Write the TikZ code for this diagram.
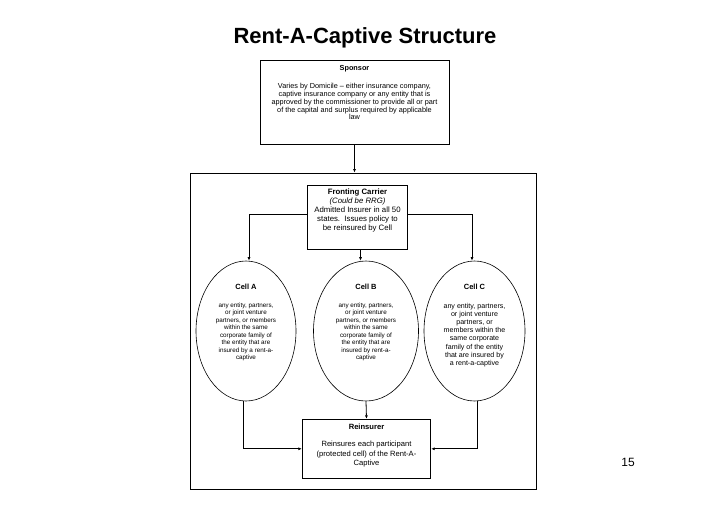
\documentclass[tikz,border=0pt]{standalone}
\usepackage{fontspec}
\setmainfont{Liberation Sans}
\usetikzlibrary{shapes.geometric,arrows.meta}

\begin{document}
\begin{tikzpicture}[x=1pt,y=-1pt,line width=.8pt,
  box/.style={draw,line width=.9pt,inner sep=0pt},
  cell/.style={draw,ellipse,line width=.6pt,minimum height=140pt,inner sep=0pt},
  txt/.style={align=center,inner sep=0pt,anchor=north},
  arr/.style={-{Latex[length=3.5pt,width=3pt]}}]
\useasboundingbox (0,0) rectangle (728,514);
\node[font=\fontsize{22}{26}\selectfont\bfseries] (title) at (365,38) {Rent-A-Captive Structure};
% boxes and cells
\node[box,minimum width=189pt,minimum height=84pt] (sponsor) at (354.5,102) {};
\node[box,minimum width=346pt,minimum height=316pt] (frame) at (363.7,331) {};
\node[box,minimum width=100.4pt,minimum height=63.6pt] (fronting) at (357.5,217.5) {};
\node[cell,minimum width=100pt] (cellA) at (246,331) {};
\node[cell,minimum width=105pt] (cellB) at (366,331) {};
\node[cell,minimum width=101pt] (cellC) at (474.5,331) {};
\node[box,minimum width=128.4pt,minimum height=59pt] (reinsurer) at (366.5,448.8) {};
% texts
\node[txt,font=\fontsize{7.3}{7.7}\selectfont] (sponsortxt) at (354.5,65.5) {\textbf{Sponsor}\\[10.3pt]
  Varies by Domicile -- either insurance company,\\ captive insurance company or any entity that is\\
  approved by the commissioner to provide all or part\\ of the capital and surplus required by applicable\\ law};
\node[txt,font=\fontsize{7.8}{9}\selectfont] (frontingtxt) at (357.5,188.5) {\textbf{Fronting Carrier}\\ \textit{(Could be RRG)}\\
  Admitted Insurer in all 50\\ states.\ \ Issues policy to\\ be reinsured by Cell};
\node[txt,font=\fontsize{6.3}{7.5}\selectfont] (cellAtxt) at (246,284) {{\fontsize{7.5}{9}\selectfont\bfseries Cell A}\\[9.8pt]
  any entity, partners,\\ or joint venture\\ partners, or members\\ within the same\\ corporate family of\\
  the entity that are\\ insured by a rent-a-\\ captive};
\node[txt,font=\fontsize{6.3}{7.5}\selectfont] (cellBtxt) at (366,284) {{\fontsize{7.5}{9}\selectfont\bfseries Cell B}\\[9.8pt]
  any entity, partners,\\ or joint venture\\ partners, or members\\ within the same\\ corporate family of\\
  the entity that are\\ insured by rent-a-\\ captive};
\node[txt,font=\fontsize{7.1}{8.1}\selectfont] (cellCtxt) at (474.5,284) {{\fontsize{7.5}{9}\selectfont\bfseries Cell C}\\[10.6pt]
  any entity, partners,\\ or joint venture\\ partners, or\\ members within the\\ same corporate\\
  family of the entity\\ that are insured by\\ a rent-a-captive};
\node[txt,font=\fontsize{7.6}{9.3}\selectfont] (reinsurertxt) at (366.5,423.5) {\textbf{Reinsurer}\\[8.1pt]
  Reinsures each participant\\ (protected cell) of the Rent-A-\\ Captive};
\node[font=\fontsize{12}{14}\selectfont] (pagenum) at (628,462) {15};
% connectors
\draw[arr] (sponsor.south) -- (sponsor.south |- frame.north);
\draw[arr] ([yshift=3.5pt]fronting.west) -| ([xshift=3pt]cellA.north);
\draw[arr] ([xshift=3pt]fronting.south) -- ([xshift=-5.5pt]cellB.north);
\draw[arr] ([yshift=3.5pt]fronting.east) -| ([xshift=-2.5pt]cellC.north);
\draw[arr] ([xshift=-2.7pt]cellA.south) |- (reinsurer.west);
\draw[arr] (cellB.south) -- (reinsurer.north);
\draw[arr] ([xshift=2.8pt]cellC.south) |- (reinsurer.east);
\end{tikzpicture}
\end{document}
